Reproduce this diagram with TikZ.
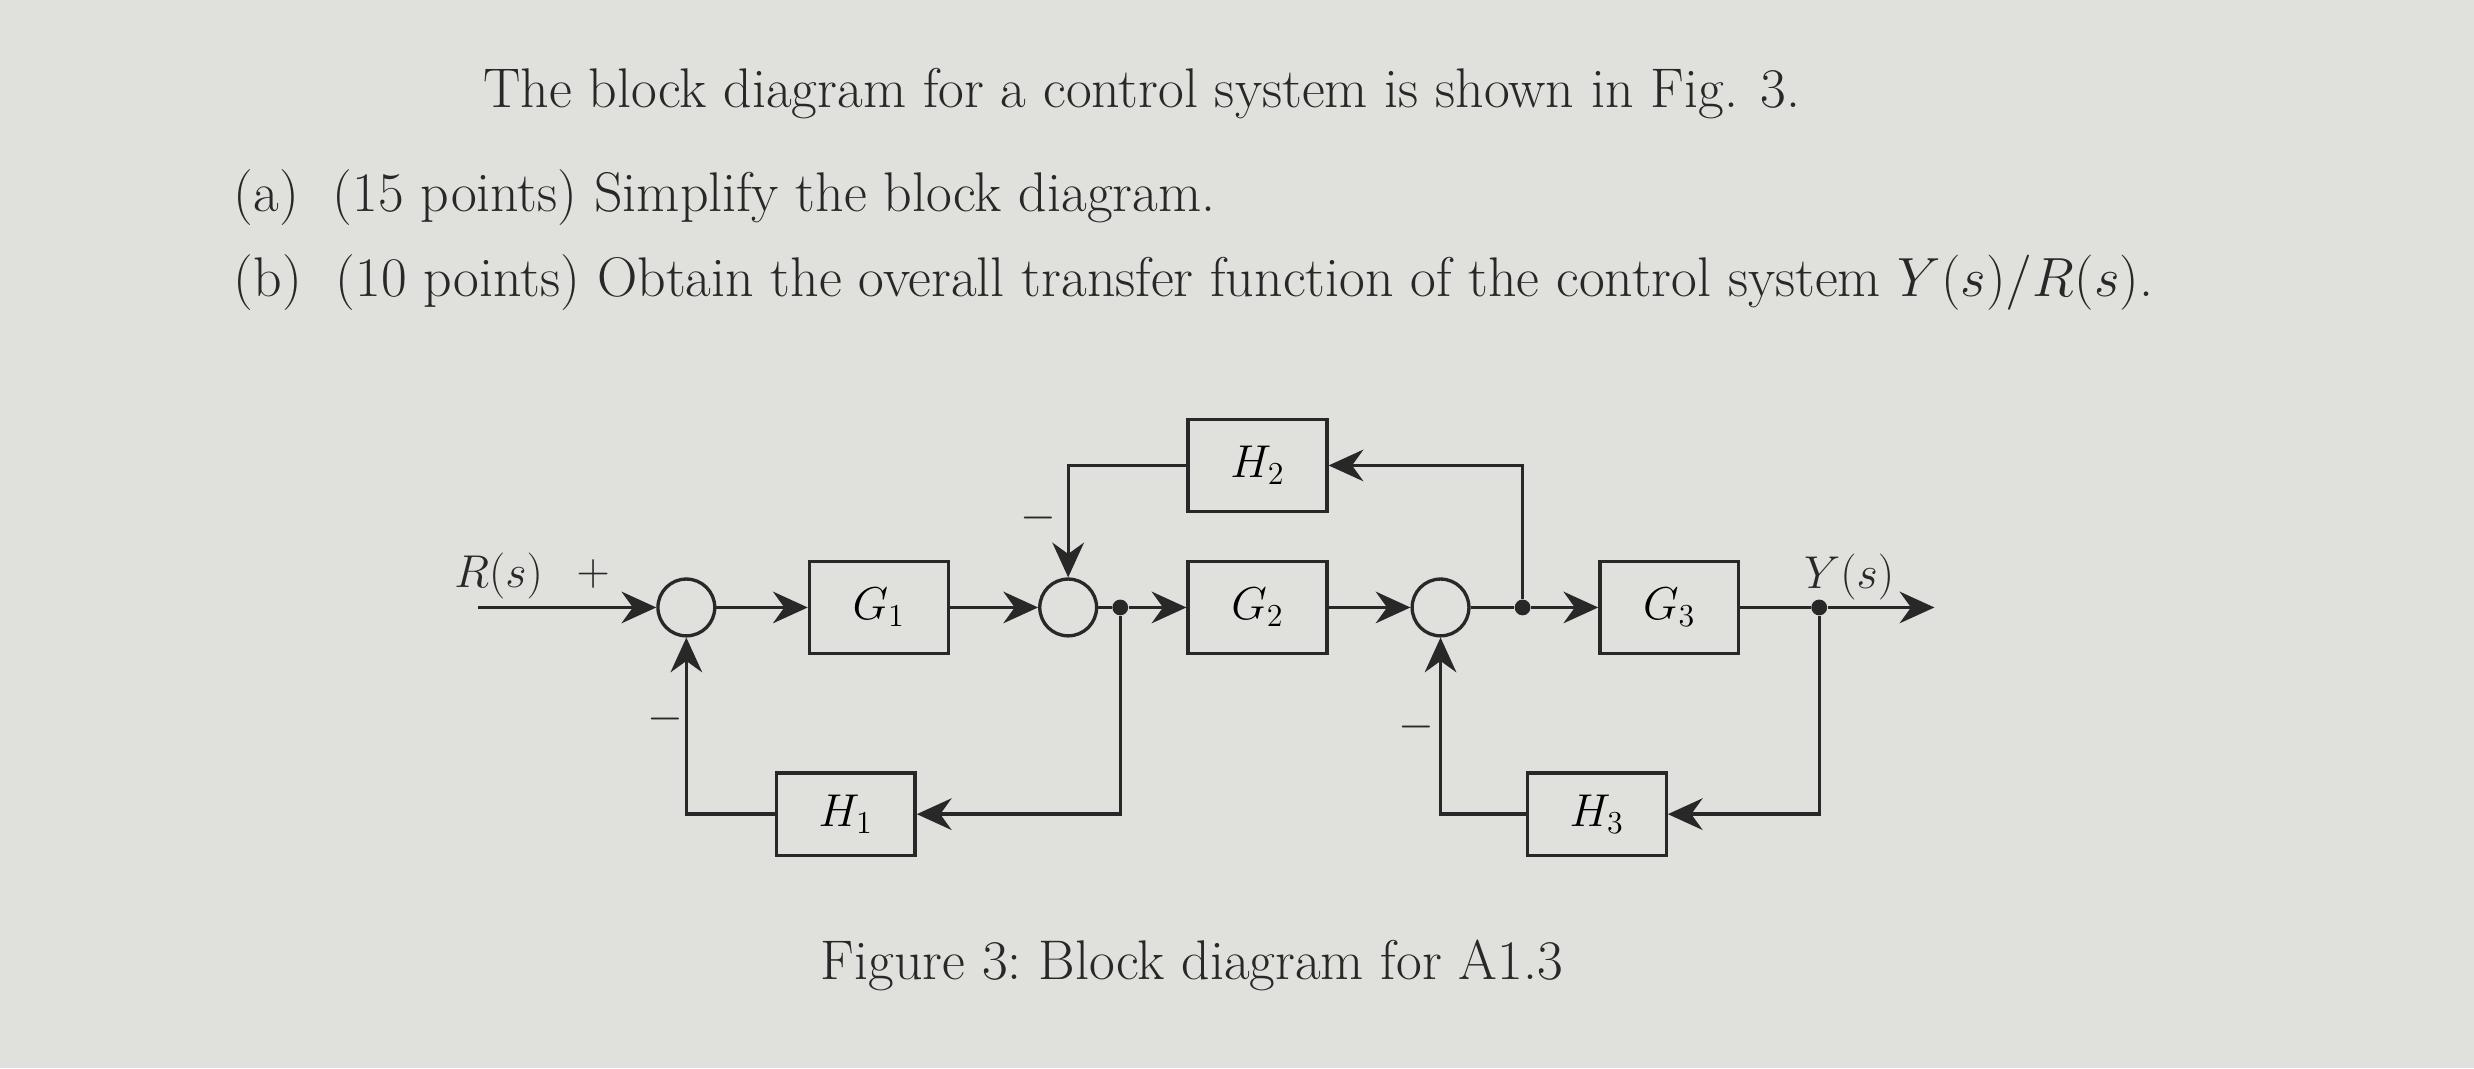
\documentclass[tikz,border=0pt]{standalone}
\usetikzlibrary{arrows.meta}
\definecolor{bg}{RGB}{224,224,221}
\definecolor{ink}{RGB}{40,40,40}
\begin{document}
\begin{tikzpicture}[x=0.025cm,y=-0.025cm,
  blk/.style={draw=ink,line width=1.5pt,minimum width=2.2cm,minimum height=1.45cm,inner sep=0pt,font=\fontsize{20}{24}\selectfont},
  sumnode/.style={draw=ink,line width=1.5pt,circle,minimum size=0.9cm,inner sep=0pt},
  dotn/.style={circle,fill=ink,minimum size=0.25cm,inner sep=0pt},
  sig/.style={draw=ink,line width=1.5pt,-{Stealth[length=0.55cm,width=0.5cm]}},
  ln/.style={draw=ink,line width=1.5pt},
  txt/.style={font=\fontsize{25.2}{30}\selectfont,text=ink,inner sep=0pt},
  lbl/.style={font=\fontsize{20}{24}\selectfont,text=ink,inner sep=0pt}]
\fill[bg] (0,0) rectangle (1568,677);
\useasboundingbox (0,0) rectangle (1568,677);
\node[txt,anchor=base west] (t0) at (306,68) {The block diagram for a control system is shown in Fig. 3.};
\node[txt,anchor=base west] (t1) at (148,134) {(a)\ \ (15 points) Simplify the block diagram.};
\node[txt,anchor=base west] (t2) at (148,188) {(b)\ \ (10 points) Obtain the overall transfer function of the control system $Y(s)/R(s)$.};
\node[txt,anchor=base west] (cap) at (520,621) {Figure 3:\ Block diagram for A1.3};
% nodes
\coordinate (in) at (303,385);
\node[sumnode] (s1) at (435,385) {};
\node[blk] (g1) at (557,385) {$G_1$};
\node[sumnode] (s2) at (677,385) {};
\node[dotn] (d1) at (710,385) {};
\node[blk] (g2) at (797,385) {$G_2$};
\node[blk] (h2) at (797,295) {$H_2$};
\node[sumnode] (s3) at (913,385) {};
\node[dotn] (d2) at (965,385) {};
\node[blk] (g3) at (1058,385) {$G_3$};
\node[dotn] (d3) at (1153,385) {};
\coordinate (out) at (1226,385);
\node[blk,minimum height=1.3cm] (h1) at (536,516) {$H_1$};
\node[blk,minimum height=1.3cm] (h3) at (1012,516) {$H_3$};
\node[lbl] (rs) at (316,365) {$R(s)$};
\node[lbl] (plus) at (376,364) {$+$};
\node[lbl] (ys) at (1172,366) {$Y(s)$};
\node[lbl] (m1) at (422,456) {$-$};
\node[lbl] (m2) at (658,328) {$-$};
\node[lbl] (m3) at (898,461) {$-$};
% main path
\path[sig] (in) -- (s1);
\path[sig] (s1) -- (g1);
\path[sig] (g1) -- (s2);
\path[ln] (s2) -- (d1);
\path[sig] (d1) -- (g2);
\path[sig] (g2) -- (s3);
\path[ln] (s3) -- (d2);
\path[sig] (d2) -- (g3);
\path[ln] (g3) -- (d3);
\path[sig] (d3) -- (out);
% feedback
\path[sig] (d1) |- (h1);
\path[sig] (h1) -| (s1);
\path[sig] (d2) |- (h2);
\path[sig] (h2) -| (s2);
\path[sig] (d3) |- (h3);
\path[sig] (h3) -| (s3);
\end{tikzpicture}
\end{document}
